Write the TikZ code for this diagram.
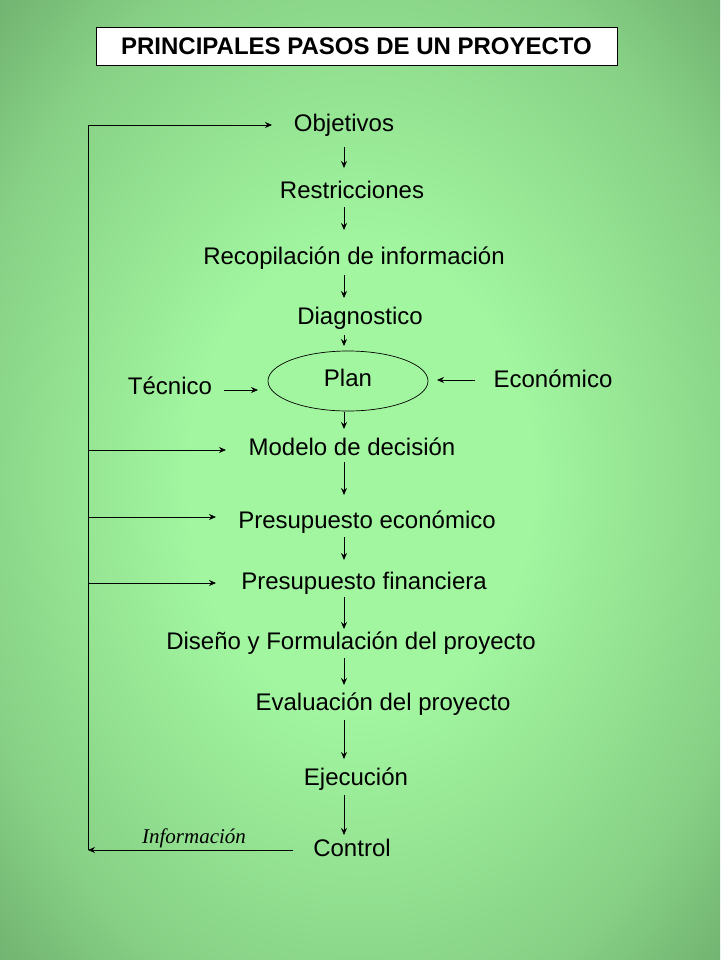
\documentclass[tikz,border=0pt]{standalone}
\usepackage{fontspec}
\setmainfont{Liberation Sans}
\newfontfamily\infofont{Liberation Serif}
\usetikzlibrary{arrows.meta,shapes.geometric}
\definecolor{bglight}{RGB}{162,246,160}
\definecolor{bgdark}{RGB}{72,122,72}
\pgfdeclareradialshading{bgsh}{\pgfpoint{0bp}{0bp}}{color(0bp)=(bglight); color(12bp)=(bglight); color(28bp)=(bglight!70!bgdark); color(42bp)=(bglight!25!bgdark); color(50bp)=(bgdark); color(75bp)=(bgdark)}
\begin{document}
\begin{tikzpicture}[x=1pt,y=-1pt,
  lbl/.style={font=\fontsize{24}{28}\selectfont, inner sep=0pt},
  arr/.style={-{Stealth[length=7pt,width=6pt]}, line width=0.7pt}]
\useasboundingbox (0,0) rectangle (720,960);
\shade[shading=bgsh] (0,0) rectangle (720,960);
\node[draw, fill=white, minimum width=521pt, minimum height=38pt, inner sep=0pt,
  font=\bfseries\fontsize{24}{28}\selectfont] (title) at (356.5,46) {PRINCIPALES PASOS DE UN PROYECTO};
\node[lbl] (obj) at (344,125) {Objetivos};
\node[lbl] (res) at (352,190) {Restricciones};
\node[lbl] (rec) at (354,258) {Recopilación de información};
\node[lbl] (dia) at (360,318) {Diagnostico};
\node[draw, ellipse, minimum width=160pt, minimum height=60pt, inner sep=0pt, line width=0.7pt] (planE) at (348,381) {};
\node[lbl] (plan) at (348,378) {Plan};
\node[lbl] (tec) at (170,386) {Técnico};
\node[lbl] (eco) at (553,379) {Económico};
\node[lbl] (mod) at (352,447) {Modelo de decisión};
\node[lbl] (pe) at (367,522) {Presupuesto económico};
\node[lbl] (pf) at (364,583) {Presupuesto financiera};
\node[lbl] (dis) at (351,643) {Diseño y Formulación del proyecto};
\node[lbl] (eva) at (383,704) {Evaluación del proyecto};
\node[lbl] (eje) at (356,779) {Ejecución};
\node[lbl] (con) at (352,848) {Control};
\node[inner sep=0pt, font=\infofont\itshape\fontsize{21}{24}\selectfont] (inf) at (194,838) {Información};
% vertical arrows
\coordinate (a1) at (344,147); \coordinate (b1) at (344,168);
\coordinate (a2) at (344,207); \coordinate (b2) at (344,230);
\coordinate (a3) at (344,275); \coordinate (b3) at (344,298);
\coordinate (a4) at (344,335); \coordinate (b4) at (344,346);
\coordinate (a5) at (344,412); \coordinate (b5) at (344,429);
\coordinate (a6) at (344,462); \coordinate (b6) at (344,495);
\coordinate (a7) at (344,537); \coordinate (b7) at (344,560);
\coordinate (a8) at (344,597); \coordinate (b8) at (344,629);
\coordinate (a9) at (344,658); \coordinate (b9) at (344,685);
\coordinate (a10) at (344,720); \coordinate (b10) at (344,759);
\coordinate (a11) at (344,795); \coordinate (b11) at (344,835);
\foreach \i in {1,...,11} {\draw[arr] (a\i) -- (b\i);}
% side arrows
\coordinate (t1) at (224,390); \coordinate (t2) at (258,390);
\draw[arr] (t1) -- (t2);
\coordinate (e1) at (475,380); \coordinate (e2) at (437,380);
\draw[arr] (e1) -- (e2);
% feedback loop
\coordinate (fTop) at (88,125); \coordinate (fBot) at (88,850);
\coordinate (fEnd) at (293,850);
\draw[line width=0.7pt] (fTop) -- (fBot);
\draw[arr] (fEnd) -- (fBot);
\coordinate (h1) at (272,125); \draw[arr] (fTop) -- (h1);
\coordinate (g2) at (88,450); \coordinate (h2) at (226,450); \draw[arr] (g2) -- (h2);
\coordinate (g3) at (88,517); \coordinate (h3) at (216,517); \draw[arr] (g3) -- (h3);
\coordinate (g4) at (88,583); \coordinate (h4) at (216,583); \draw[arr] (g4) -- (h4);
\end{tikzpicture}
\end{document}
